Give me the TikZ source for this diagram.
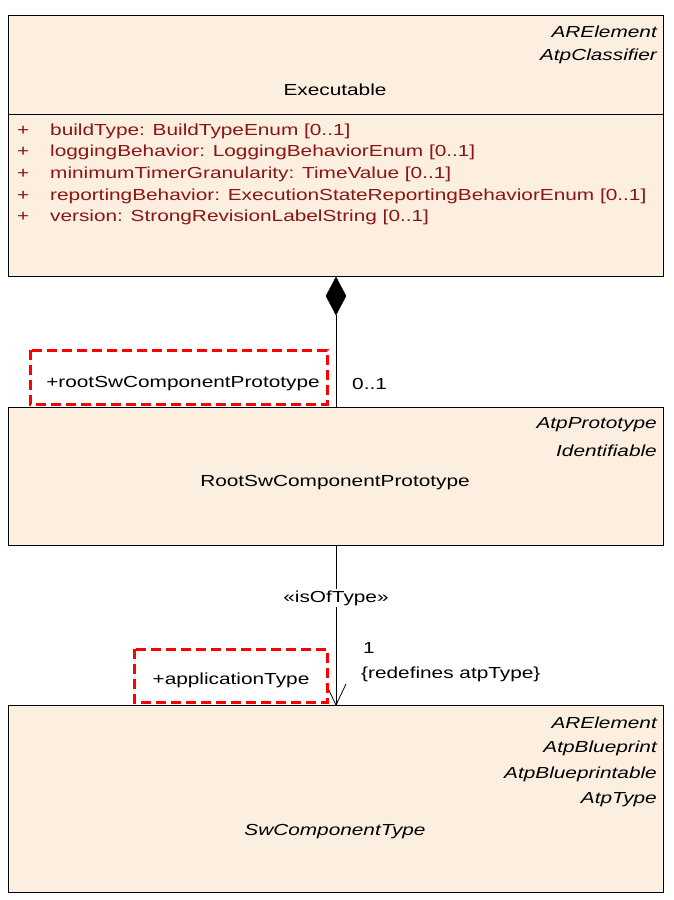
\documentclass[tikz,border=0pt]{standalone}
\usepackage{fontspec}
\setmainfont[FakeStretch=1.3]{Liberation Sans}
\usetikzlibrary{arrows.meta}
\definecolor{boxfill}{RGB}{252,239,223}
\definecolor{attr}{RGB}{140,20,20}
\begin{document}
\begin{tikzpicture}[x=1pt,y=-1pt,
  cls/.style={draw=black,fill=boxfill,line width=0.8pt},
  txt/.style={inner sep=0pt,font=\fontsize{16}{18}\selectfont},
  st/.style={txt,anchor=east,font=\fontsize{16}{18}\selectfont\itshape},
  attrtxt/.style={txt,anchor=west,text=attr},
  hl/.style={draw=red,line width=3pt,dash pattern=on 10pt off 5pt}]
\useasboundingbox[fill=white] (0,0) rectangle (674,900);
% Executable
\draw[cls] (8,15) rectangle (663,276);
\draw[line width=0.8pt] (8,114) -- (663,114);
\node[st] (s1) at (657,32) {ARElement};
\node[st] (s2) at (657,56) {AtpClassifier};
\node[txt] (exe) at (335,90) {Executable};
\node[attrtxt] (p1) at (17,131) {+};
\node[attrtxt] (a1) at (50,131) {buildType: BuildTypeEnum [0..1]};
\node[attrtxt] (p2) at (17,152) {+};
\node[attrtxt] (a2) at (50,152) {loggingBehavior: LoggingBehaviorEnum [0..1]};
\node[attrtxt] (p3) at (17,174) {+};
\node[attrtxt] (a3) at (50,174) {minimumTimerGranularity: TimeValue [0..1]};
\node[attrtxt] (p4) at (17,196) {+};
\node[attrtxt] (a4) at (50,196) {reportingBehavior: ExecutionStateReportingBehaviorEnum [0..1]};
\node[attrtxt] (p5) at (17,217) {+};
\node[attrtxt] (a5) at (50,217) {version: StrongRevisionLabelString [0..1]};
% Root
\draw[cls] (8,407) rectangle (663,545);
\node[st] (r1) at (657,425) {AtpPrototype};
\node[st] (r2) at (657,451) {Identifiable};
\node[txt] (root) at (335,483) {RootSwComponentPrototype};
% SwComponentType
\draw[cls] (8,705) rectangle (663,892);
\node[st] (t1) at (657,723) {ARElement};
\node[st] (t2) at (657,748) {AtpBlueprint};
\node[st] (t3) at (657,774) {AtpBlueprintable};
\node[st] (t4) at (657,800) {AtpType};
\node[txt,font=\fontsize{16}{18}\selectfont\itshape] (swc) at (335,832) {SwComponentType};
% composition
\coordinate (d0) at (336,277);
\coordinate (e0) at (336,407);
\draw[line width=0.8pt] (336,315) -- (e0);
\filldraw (d0) -- (346,296) -- (336,315) -- (326,296) -- cycle;
\node[txt] (l1) at (183,384) {+rootSwComponentPrototype};
\node[txt,anchor=west] (m1) at (352,384) {0..1};
\draw[hl] (30,350) rectangle (327,404);
% isOfType
\coordinate (d1) at (336,545);
\coordinate (e1) at (336,705);
\draw[line width=0.8pt] (d1) -- (e1);
\draw[line width=0.8pt] (326,684) -- (e1) -- (346,684);
\node[txt,fill=white,inner sep=2pt] (iot) at (336,598) {«isOfType»};
\node[txt,anchor=west] (m2) at (363,648) {1};
\node[txt,anchor=west] (m3) at (361,674) {\{redefines atpType\}};
\node[txt] (l2) at (231,680) {+applicationType};
\draw[hl] (134,649) rectangle (327,702);
\end{tikzpicture}
\end{document}
